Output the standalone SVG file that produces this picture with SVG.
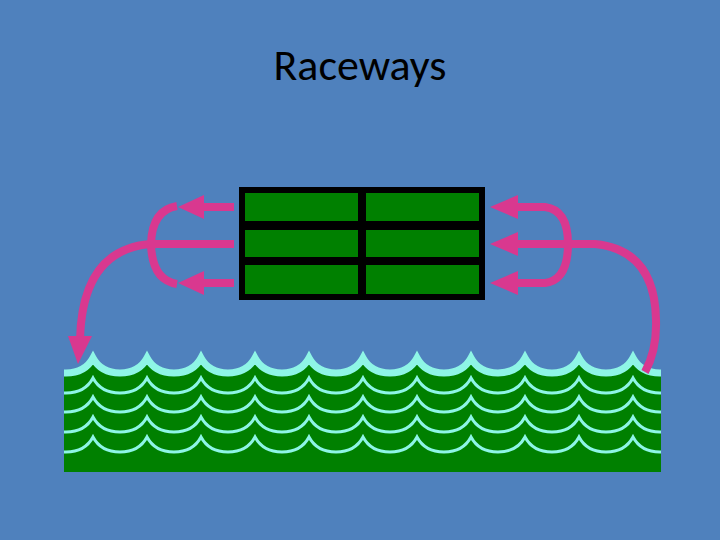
<svg xmlns="http://www.w3.org/2000/svg" width="720" height="540" viewBox="0 0 720 540">
<defs>
<style>
.a{fill:none;stroke:#D9388F;stroke-width:8}
.h{fill:#D9388F}
.w{fill:none;stroke:#8EF5E6;stroke-width:3}
.cell{fill:#008000}
</style>
<clipPath id="c"><rect x="64" y="350" width="597" height="122"/></clipPath>
</defs>
<rect width="720" height="540" fill="#4F81BD"/>
<text x="360" y="80" font-family="Calibri, 'Liberation Sans', sans-serif" font-size="44" text-anchor="middle" fill="#000" font-weight="normal" textLength="173" lengthAdjust="spacingAndGlyphs">Raceways</text>
<g id="water">
<rect x="64" y="372" width="597" height="100" fill="#008000"/>
<g clip-path="url(#c)">
<path d="M39,358 q8,15 27,15 q19,0 27,-15 q8,15 27,15 q19,0 27,-15 q8,15 27,15 q19,0 27,-15 q8,15 27,15 q19,0 27,-15 q8,15 27,15 q19,0 27,-15 q8,15 27,15 q19,0 27,-15 q8,15 27,15 q19,0 27,-15 q8,15 27,15 q19,0 27,-15 q8,15 27,15 q19,0 27,-15 q8,15 27,15 q19,0 27,-15 q8,15 27,15 q19,0 27,-15 q8,15 27,15 q19,0 27,-15 q8,15 27,15 q19,0 27,-15 L687,390 L39,390 Z" fill="#008000"/>
<path d="M39,358 q8,15 27,15 q19,0 27,-15 q8,15 27,15 q19,0 27,-15 q8,15 27,15 q19,0 27,-15 q8,15 27,15 q19,0 27,-15 q8,15 27,15 q19,0 27,-15 q8,15 27,15 q19,0 27,-15 q8,15 27,15 q19,0 27,-15 q8,15 27,15 q19,0 27,-15 q8,15 27,15 q19,0 27,-15 q8,15 27,15 q19,0 27,-15 q8,15 27,15 q19,0 27,-15 q8,15 27,15 q19,0 27,-15 q8,15 27,15 q19,0 27,-15" fill="none" stroke="#8EF5E6" stroke-width="7"/>
<g class="w">
<path d="M39,378 q8,15 27,15 q19,0 27,-15 q8,15 27,15 q19,0 27,-15 q8,15 27,15 q19,0 27,-15 q8,15 27,15 q19,0 27,-15 q8,15 27,15 q19,0 27,-15 q8,15 27,15 q19,0 27,-15 q8,15 27,15 q19,0 27,-15 q8,15 27,15 q19,0 27,-15 q8,15 27,15 q19,0 27,-15 q8,15 27,15 q19,0 27,-15 q8,15 27,15 q19,0 27,-15 q8,15 27,15 q19,0 27,-15 q8,15 27,15 q19,0 27,-15"/>
<path d="M39,397 q8,15 27,15 q19,0 27,-15 q8,15 27,15 q19,0 27,-15 q8,15 27,15 q19,0 27,-15 q8,15 27,15 q19,0 27,-15 q8,15 27,15 q19,0 27,-15 q8,15 27,15 q19,0 27,-15 q8,15 27,15 q19,0 27,-15 q8,15 27,15 q19,0 27,-15 q8,15 27,15 q19,0 27,-15 q8,15 27,15 q19,0 27,-15 q8,15 27,15 q19,0 27,-15 q8,15 27,15 q19,0 27,-15 q8,15 27,15 q19,0 27,-15"/>
<path d="M39,417 q8,15 27,15 q19,0 27,-15 q8,15 27,15 q19,0 27,-15 q8,15 27,15 q19,0 27,-15 q8,15 27,15 q19,0 27,-15 q8,15 27,15 q19,0 27,-15 q8,15 27,15 q19,0 27,-15 q8,15 27,15 q19,0 27,-15 q8,15 27,15 q19,0 27,-15 q8,15 27,15 q19,0 27,-15 q8,15 27,15 q19,0 27,-15 q8,15 27,15 q19,0 27,-15 q8,15 27,15 q19,0 27,-15 q8,15 27,15 q19,0 27,-15"/>
<path d="M39,437 q8,15 27,15 q19,0 27,-15 q8,15 27,15 q19,0 27,-15 q8,15 27,15 q19,0 27,-15 q8,15 27,15 q19,0 27,-15 q8,15 27,15 q19,0 27,-15 q8,15 27,15 q19,0 27,-15 q8,15 27,15 q19,0 27,-15 q8,15 27,15 q19,0 27,-15 q8,15 27,15 q19,0 27,-15 q8,15 27,15 q19,0 27,-15 q8,15 27,15 q19,0 27,-15 q8,15 27,15 q19,0 27,-15"/>
</g>
</g>
</g>
<g id="raceways">
<rect x="239" y="187" width="246" height="113" fill="#000"/>
<rect class="cell" x="245" y="193" width="113" height="28"/>
<rect class="cell" x="366" y="193" width="113" height="28"/>
<rect class="cell" x="245" y="230" width="113" height="27"/>
<rect class="cell" x="366" y="230" width="113" height="27"/>
<rect class="cell" x="245" y="265" width="113" height="29"/>
<rect class="cell" x="366" y="265" width="113" height="29"/>
</g>
<g id="connectors">
<path class="a" d="M234,207 H200"/>
<path class="a" d="M234,283 H200"/>
<path class="a" d="M177,206 Q152,210 151,244 Q152,280 177,284"/>
<path class="a" d="M234,244 H150 Q82,250 80,340"/>
<polygon class="h" points="178,207 204,195 204,219"/>
<polygon class="h" points="178,283 204,271 204,295"/>
<polygon class="h" points="78,364 68,336 92,336"/>
<path class="a" d="M515,207 H545 Q568,210 568,244 Q568,280 545,283 H515"/>
<path class="a" d="M515,244 H595 Q655,250 656,320 Q657,350 645,372"/>
<polygon class="h" points="490,207 518,195 518,219"/>
<polygon class="h" points="490,244 518,232 518,256"/>
<polygon class="h" points="490,283 518,271 518,295"/>
</g>
</svg>
